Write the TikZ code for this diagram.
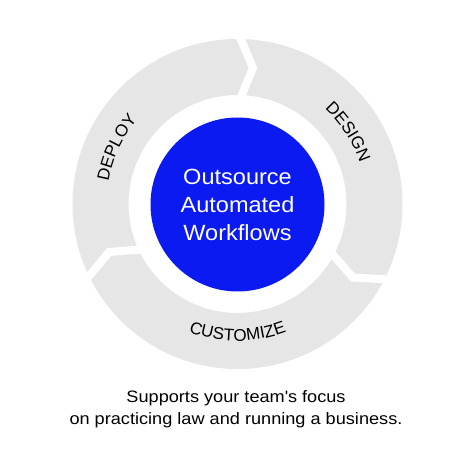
\documentclass[tikz,border=0pt]{standalone}
\usepackage{fontspec}
\setmainfont{Liberation Sans}
\newfontfamily\widefont[FakeStretch=1.07]{Liberation Sans}
\newfontfamily\capfont[FakeStretch=1.1]{Liberation Sans}
\usetikzlibrary{decorations.text}
\definecolor{ringgray}{RGB}{230,230,230}
\definecolor{coreblue}{RGB}{10,26,240}
\begin{document}
\begin{tikzpicture}[x=1pt,y=1pt,
  gapline/.style={white, line width=8pt, line join=miter},
  ringlabel/.style={decorate, decoration={text along path, text align=center,
     text={|\fontsize{17}{20}\selectfont|#1}}},
]
\useasboundingbox[fill=white] (0,0) rectangle (474,474);
\begin{scope}[shift={(237.5,270)}]
  % ring
  \fill[ringgray, even odd rule] (0,0) circle[radius=165] (0,0) circle[radius=109];
  % chevron gaps between the three arrows (clockwise flow)
  \foreach \t in {91,-25,208}{
    \coordinate (go\t) at (\t:180);
    \coordinate (gt\t) at ({\t-7.5}:137);
    \coordinate (gi\t) at (\t:95);
    \draw[gapline] (go\t) -- (gt\t) -- (gi\t);
  }
  % labels along the ring
  \path[ringlabel={DEPLOY}] (192:131) arc[start angle=192, end angle=118, radius=131];
  \path[ringlabel={DESIGN}] (70:129) arc[start angle=70, end angle=-4, radius=129];
  \path[ringlabel={CUSTOMIZE}] (-135:137) arc[start angle=-135, end angle=-45, radius=137];
  % core
  \node[circle, fill=coreblue, minimum size=174pt, inner sep=0pt, text=white,
        align=center, font=\widefont\fontsize{22}{28}\selectfont] (core) at (0,-0.5)
        {Outsource\\Automated\\Workflows};
\end{scope}
\node[align=center, inner sep=0pt, font=\capfont\fontsize{16.5}{22}\selectfont] (caption) at (236,64.5)
  {Supports your team\textquotesingle s focus\\on practicing law and running a business.};
\end{tikzpicture}
\end{document}
